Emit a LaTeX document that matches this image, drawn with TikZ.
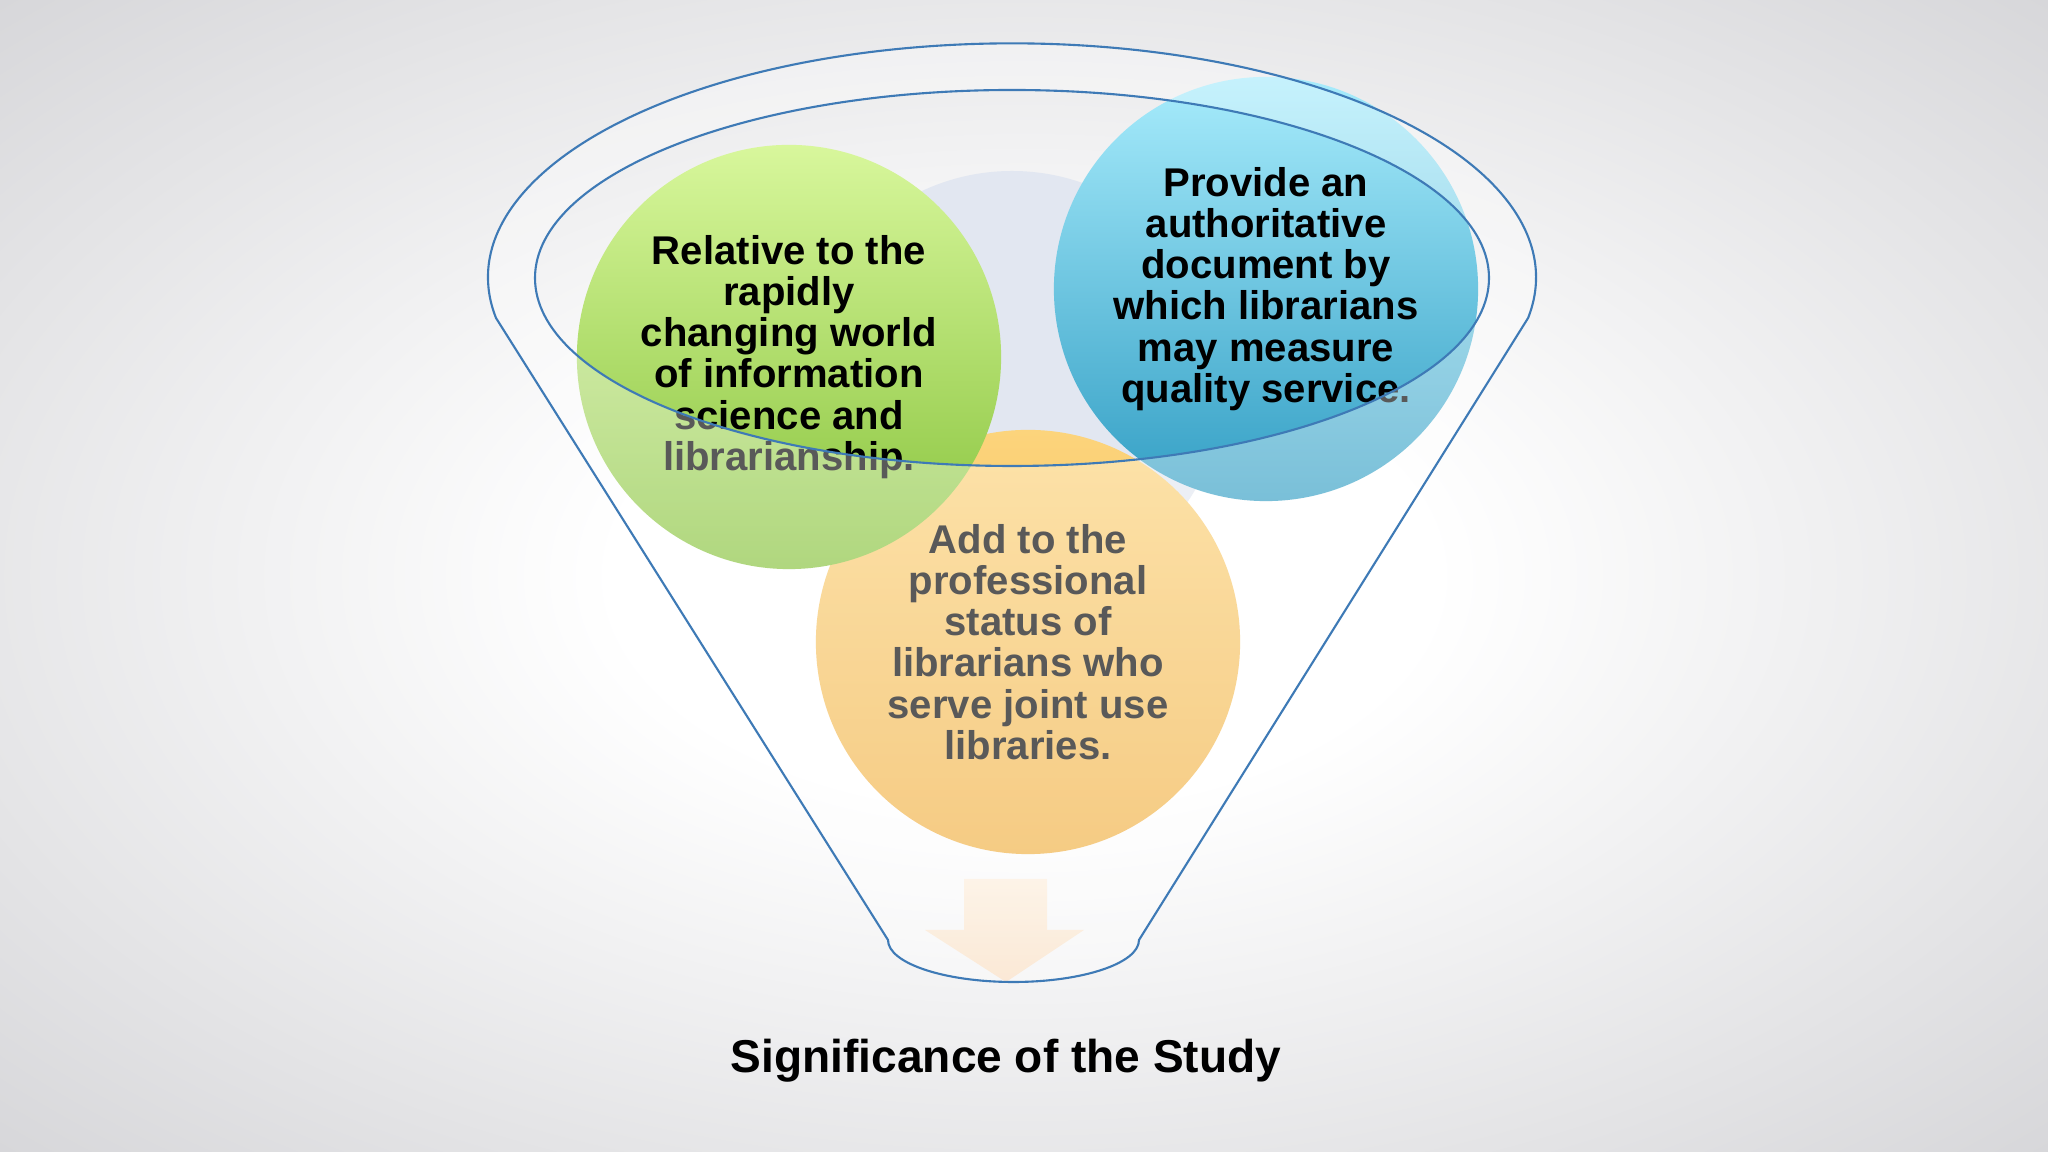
\documentclass[tikz,border=0pt]{standalone}
\usepackage{fontspec}
\setmainfont{Liberation Sans}
\definecolor{rim}{RGB}{62,122,182}
\definecolor{bgedge}{RGB}{214,214,217}
\definecolor{lavender}{RGB}{226,231,241}
\definecolor{limetop}{RGB}{216,247,156}
\definecolor{limebot}{RGB}{134,194,58}
\definecolor{skytop}{RGB}{168,236,252}
\definecolor{skybot}{RGB}{50,158,196}
\definecolor{ambertop}{RGB}{252,212,124}
\definecolor{amberbot}{RGB}{241,176,66}
\definecolor{peachtop}{RGB}{252,238,220}
\definecolor{peachbot}{RGB}{249,221,192}
\pgfdeclareradialshading{slidebg}{\pgfpoint{0bp}{0bp}}{color(0bp)=(white); color(10bp)=(white); color(36bp)=(bgedge); color(50bp)=(bgedge)}

\begin{document}
\begin{tikzpicture}[x=0.01cm, y=0.01cm,
  bubble/.style={circle, minimum size=4.24cm, inner sep=0pt, align=center,
    font=\bfseries\fontsize{11.4}{11.7}\selectfont}]
  % slide background
  \shade[shading=slidebg] (0,0) rectangle (2048,1152);
  \useasboundingbox (0,0) rectangle (2048,1152);
  % faint disc behind the bubbles
  \fill[lavender] (1012,769) circle (212);
  % bubbles
  \node[bubble, top color=ambertop, bottom color=amberbot] (addbub) at (1028,510)
    {Add to the\\professional\\status of\\librarians who\\serve joint use\\libraries.};
  \node[bubble, top color=limetop, bottom color=limebot] (relbub) at (789,795)
    {Relative to the\\rapidly\\changing world\\of information\\science and\\librarianship.};
  \node[bubble, top color=skytop, bottom color=skybot] (provbub) at (1266,863)
    {Provide an\\authoritative\\document by\\which librarians\\may measure\\quality service.};
  % arrow out of the funnel
  \shade[top color=peachtop, bottom color=peachbot]
    (964,273) -- (1047,273) -- (1047,222) -- (1084,222) -- (1006,170)
    -- (925,222) -- (964,222) -- cycle;
  % funnel body + rim
  \filldraw[rim, line width=0.6pt, fill=white, fill opacity=0.35, even odd rule]
    (496,834) arc[start angle=190, end angle=-10, x radius=524, y radius=234]
    -- (1139,212) arc[start angle=0, end angle=-180, x radius=125.5, y radius=42] -- cycle
    (1012,874) ellipse[x radius=477, y radius=188];
  % caption
  \node[font=\bfseries\fontsize{13.1}{15}\selectfont] (title) at (1006,91) {Significance of the Study};
\end{tikzpicture}
\end{document}
